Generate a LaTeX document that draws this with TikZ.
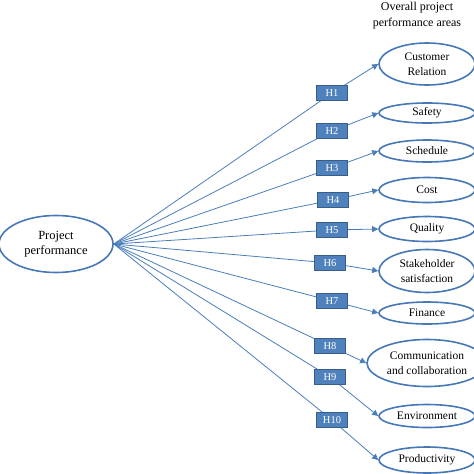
\documentclass[tikz,border=0pt]{standalone}
\usepackage{fontspec}
\setmainfont{Liberation Serif}
\usepackage{tikz}
\usetikzlibrary{
  arrows.meta,
  shapes.geometric
}
\definecolor{ppEdge}{HTML}{4677B6}
\definecolor{ppLine}{HTML}{4A7EBB}
\definecolor{ppFill}{HTML}{4F81BD}
\definecolor{ppDark}{HTML}{385D8A}
\tikzset{
  area/.style={
    draw=ppEdge, ellipse, line width=1.6pt, inner sep=0pt,
    minimum width=96pt, font=\fontsize{11.5}{15}\selectfont, align=center
  },
  hyp/.style={
    draw=ppDark, fill=ppFill, text=white, line width=0.6pt,
    minimum width=31pt, minimum height=15pt, inner sep=0pt,
    font=\fontsize{10.5}{11}\selectfont
  },
  link/.style={draw=ppLine, line width=0.8pt},
  hyplink/.style={link, -{Triangle[length=6pt,width=6pt]}},
  heading/.style={font=\fontsize{12}{16}\selectfont, align=center}
}

\begin{document}
\begin{tikzpicture}[x=1pt,y=-1pt]
  \clip (0,0) rectangle (474,474);
  \node[heading] (title) at (417,16) {Overall project\\performance areas};
  \node[area, minimum width=114pt, minimum height=57pt, font=\fontsize{12.5}{15}\selectfont] (pp) at (56,244) {Project\\performance};

  % performance areas
  \node[area, minimum height=42pt] (cr) at (427,64) {Customer\\Relation};
  \node[area, minimum height=20pt] (safety) at (427,113) {Safety};
  \node[area, minimum height=22pt] (schedule) at (427,151) {Schedule};
  \node[area, minimum height=25pt] (cost) at (427,190) {Cost};
  \node[area, minimum height=25pt] (quality) at (427,229) {Quality};
  \node[area, minimum height=43pt] (stake) at (427,271) {Stakeholder\\satisfaction};
  \node[area, minimum height=22pt] (finance) at (427,313) {Finance};
  \node[area, minimum width=120pt, minimum height=47pt] (comm) at (427,363) {Communication\\and collaboration};
  \node[area, minimum height=23pt] (env) at (427,416) {Environment};
  \node[area, minimum height=26pt] (prod) at (427,460) {Productivity};

  % hypotheses
  \node[hyp] (h1) at (332,93) {H1};
  \node[hyp] (h2) at (332,131) {H2};
  \node[hyp] (h3) at (332,168) {H3};
  \node[hyp] (h4) at (333,200) {H4};
  \node[hyp] (h5) at (332,230) {H5};
  \node[hyp] (h6) at (330,263) {H6};
  \node[hyp] (h7) at (332,301) {H7};
  \node[hyp] (h8) at (330,346) {H8};
  \node[hyp] (h9) at (330,377) {H9};
  \node[hyp] (h10) at (332,420) {H10};

  \foreach \h/\a in {h1/cr, h2/safety, h3/schedule, h4/cost, h5/quality,
                     h6/stake, h7/finance, h8/comm, h9/env, h10/prod} {
    \draw[link] (pp.east) -- (\h);
    \draw[hyplink] (\h) -- (\a.west);
  }
\end{tikzpicture}
\end{document}
